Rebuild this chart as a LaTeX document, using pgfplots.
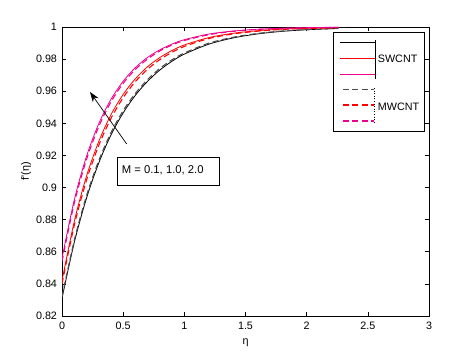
\documentclass[border=0pt]{standalone}
\usepackage{pgfplots}
\pgfplotsset{compat=1.18}
\usepackage{pgfplotstable}
\usepackage{fontspec}
\setmainfont{Liberation Sans}
\usetikzlibrary{arrows.meta}

\pgfplotstableread{
eta  bs     bd     rs     rd     ms     md
0    0.8310 0.8320 0.8420 0.8400 0.8560 0.8540
0.1  0.8657 0.8670 0.8788 0.8764 0.8922 0.8902
0.2  0.8933 0.8948 0.9070 0.9045 0.9194 0.9174
0.3  0.9152 0.9167 0.9286 0.9262 0.9397 0.9379
0.4  0.9327 0.9341 0.9453 0.9430 0.9549 0.9533
0.5  0.9465 0.9479 0.9580 0.9560 0.9662 0.9649
0.6  0.9575 0.9587 0.9678 0.9660 0.9747 0.9736
0.7  0.9662 0.9673 0.9753 0.9737 0.9811 0.9801
0.8  0.9732 0.9742 0.9810 0.9797 0.9858 0.9851
0.9  0.9787 0.9796 0.9854 0.9843 0.9894 0.9888
1.0  0.9831 0.9838 0.9888 0.9879 0.9921 0.9916
1.2  0.9893 0.9899 0.9934 0.9928 0.9956 0.9952
1.4  0.9932 0.9936 0.9961 0.9957 0.9975 0.9973
1.6  0.9957 0.9960 0.9977 0.9974 0.9986 0.9985
1.8  0.9973 0.9975 0.9987 0.9985 0.9992 0.9991
2.0  0.9983 0.9984 0.9992 0.9991 0.9996 0.9995
2.26 0.9991 0.9992 0.9996 0.9995 0.9998 0.9998
}\data

\newcommand{\fs}{\fontsize{10.8}{13}\selectfont}
\tikzset{mdash/.style={dash pattern={on 6pt off 3.5pt}}}

\begin{document}
\begin{tikzpicture}
\useasboundingbox (0,0) rectangle (474bp,355bp);
\begin{axis}[
  at={(62bp,39bp)}, anchor=south west,
  scale only axis, width=367bp, height=289bp,
  xmin=0, xmax=3, ymin=0.82, ymax=1,
  xtick={0,0.5,1,1.5,2,2.5,3},
  xticklabels={0,0.5,1,1.5,2,2.5,3},
  ytick={0.82,0.84,0.86,0.88,0.9,0.92,0.94,0.96,0.98,1},
  yticklabels={0.82,0.84,0.86,0.88,0.9,0.92,0.94,0.96,0.98,1},
  tick align=inside, major tick length=4.3bp,
  axis line style={line width=0.6bp},
  every tick/.style={line width=0.6bp, black},
  ticklabel style={font=\fs},
  xticklabel style={yshift=-2.5bp},
  yticklabel style={xshift=-1.5bp},
  xlabel={η}, ylabel={f\textquotesingle(η)},
  label style={font=\fs},
  xlabel style={at={(axis description cs:0.5,-0.093)}, anchor=center},
  ylabel style={at={(axis description cs:-0.098,0.5)}, anchor=center},
]
\addplot[black, line width=0.8bp, smooth] table[x=eta,y=bs] {\data};
\addplot[black!70, line width=1.1bp, smooth, mdash] table[x=eta,y=bd] {\data};
\addplot[red, line width=0.8bp, smooth] table[x=eta,y=rs] {\data};
\addplot[red, line width=1.1bp, smooth, mdash] table[x=eta,y=rd] {\data};
\addplot[magenta, line width=0.8bp, smooth] table[x=eta,y=ms] {\data};
\addplot[magenta, line width=1.1bp, smooth, mdash] table[x=eta,y=md] {\data};
\end{axis}
\begin{scope}[x=1bp, y=-1bp, shift={(0,355bp)}]
  % legend
  \draw[line width=0.6bp, fill=white] (333.3,32.7) rectangle (424.3,131);
  \draw[black, line width=0.8bp] (340,42.7) -- (375,42.7);
  \draw[red, line width=0.8bp] (340,58.5) -- (375,58.5);
  \draw[magenta, line width=0.8bp] (340,74) -- (375,74);
  \draw[black, line width=0.7bp] (375,40) -- (375,79);
  \node[anchor=west, inner sep=0, font=\fs] at (377.7,58.5) {SWCNT};
  \draw[black!70, line width=1.1bp, mdash] (343,89.3) -- (374,89.3);
  \draw[red, line width=1.1bp, mdash] (343,105) -- (374,105);
  \draw[magenta, line width=1.1bp, mdash] (343,121) -- (374,121);
  \draw[black, line width=0.6bp, dotted] (374,88) -- (374,122);
  \node[anchor=west, inner sep=0, font=\fs] at (377.7,106.5) {MWCNT};
  % annotation
  \draw[line width=0.7bp, -{Stealth[length=10bp,width=7bp]}] (126.7,144) -- (90,92);
  \draw[line width=0.6bp, fill=white] (117,157.3) rectangle (219,185);
  \node[anchor=west, inner sep=0, font=\fontsize{11.3}{13}\selectfont] at (121.7,170.5) {M = 0.1, 1.0, 2.0};
\end{scope}
\end{tikzpicture}
\end{document}
